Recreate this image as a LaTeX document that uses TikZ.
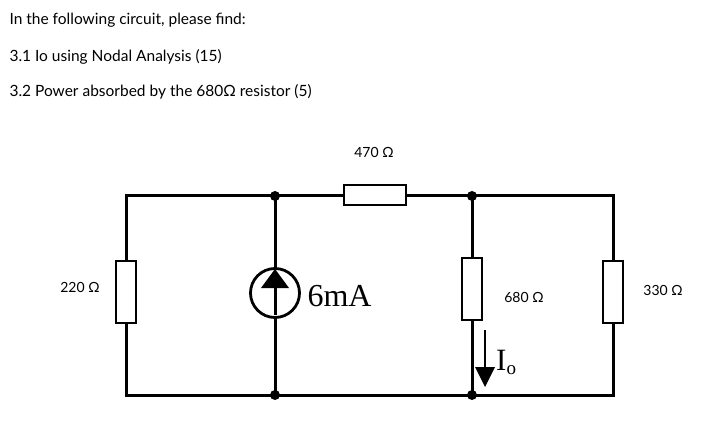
\documentclass[tikz,border=0pt]{standalone}
\usepackage{fontspec}
\setmainfont{Lato}
\newfontfamily\serifrm{Liberation Serif}
\begin{document}
\begin{tikzpicture}[x=1pt,y=-1pt,
  w/.style={line width=3pt},
  res/.style={draw,line width=2.8pt,fill=white,minimum width=20pt,minimum height=62pt,inner sep=0pt},
  hres/.style={draw,line width=2.8pt,fill=white,minimum width=62pt,minimum height=20pt,inner sep=0pt},
  dot/.style={circle,fill,inner sep=0pt,minimum size=10pt},
  lbl/.style={font=\fontsize{14}{16}\selectfont},
  q/.style={font=\fontsize{15.5}{18}\selectfont,anchor=west}]
\useasboundingbox (0,0) rectangle (701,430);
\node[q] (t1) at (6,20) {In the following circuit, please find:};
\node[q] (t2) at (6,57) {3.1 Io using Nodal Analysis (15)};
\node[q] (t3) at (6,92) {3.2 Power absorbed by the 680Ω resistor (5)};
\coordinate (a) at (126,196); \coordinate (b) at (275,196);
\coordinate (c) at (472,196); \coordinate (d) at (613,196);
\coordinate (e) at (126,395); \coordinate (f) at (275,395);
\coordinate (g) at (472,395); \coordinate (h) at (613,395);
\draw[w] (a)--(d)--(h)--(e)--cycle;
\draw[w] (b)--(f); \draw[w] (c)--(g);
\node[hres] (r470) at (375,195) {};
\node[res] (r220) at (126,292) {};
\node[res] (r680) at (472,289) {};
\node[res] (r330) at (613,292) {};
\node[circle,draw,line width=2.8pt,fill=white,minimum size=49pt,inner sep=0pt] (src) at (275,293) {};
\draw[line width=3pt] (275,315)--(275,284);
\fill (261,288)--(289,288)--(275,269)--cycle;
\node[font=\serifrm\fontsize{32}{34}\selectfont,anchor=west] (ma) at (304,296) {6mA};
\node[lbl] (l470) at (374,152) {470 Ω};
\node[lbl] (l220) at (80,287) {220 Ω};
\node[lbl] (l680) at (524,297) {680 Ω};
\node[lbl] (l330) at (663,290) {330 Ω};
\coordinate (i1) at (485,330); \coordinate (i2) at (485,368);
\draw[line width=2pt] (i1)--(i2);
\fill (475,367)--(495,367)--(485,387)--cycle;
\node[font=\serifrm\fontsize{31}{33}\selectfont,anchor=base west,inner sep=0pt] (io) at (496,370) {I\raisebox{-4pt}{\fontsize{19}{20}\selectfont o}};
\foreach \p in {b,c,f,g} \node[dot] at (\p) {};
\end{tikzpicture}
\end{document}
